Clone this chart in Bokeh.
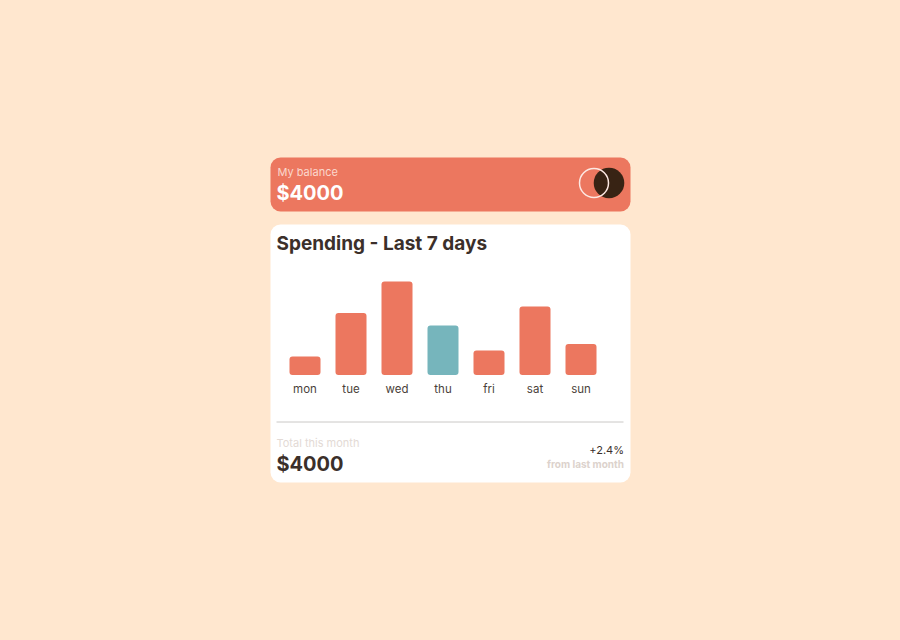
from bokeh.plotting import figure
from bokeh.models import Range1d
from bokeh.core.properties import value
from bokeh.embed import file_html
from bokeh.resources import INLINE

# ---- data ----
days = ["mon", "tue", "wed", "thu", "fri", "sat", "sun"]
spend = [18.5, 62, 93.5, 49.5, 24.5, 68.5, 31]
highlight_day = "thu"
balance_label = "My balance"
balance_text = "$4000"
chart_title = "Spending - Last 7 days"
total_label = "Total this month"
total_text = "$4000"
change_text = "+2.4%"
change_label = "from last month"

# ---- colours ----
BG = "#ffe7cf"
RED = "#ec775f"
CYAN = "#76b5bc"
DARK = "#382314"
TEXT = "#3b2f2a"
FONT = value("Inter")

W, H = 884, 624
p = figure(width=W, height=H, output_backend="svg", toolbar_location=None,
           x_range=Range1d(0, W), y_range=Range1d(H, 0), min_border=0,
           background_fill_color=BG, border_fill_color=BG, outline_line_color=None)
p.axis.visible = False
p.grid.visible = False

# cards (page pixel coordinates)
p.quad(left=[270], right=[630], top=[157], bottom=[211],
       fill_color=RED, line_color=None, border_radius=10)
p.quad(left=[270], right=[630], top=[224], bottom=[482],
       fill_color="white", line_color=None, border_radius=10)

# header texts
p.text(x=[277], y=[171], text=[balance_label], text_font=FONT,
       text_font_size="11px", text_color="#fbd8cd", text_baseline="middle")
p.text(x=[276], y=[192], text=[balance_text], text_font=FONT,
       text_font_size="20px", text_font_style="bold", text_color="white",
       text_baseline="middle")

# logo circles
p.circle(x=[608.5], y=[182.5], radius=15.3, fill_color=DARK, line_color=None)
p.circle(x=[593.5], y=[182.5], radius=14.5, fill_color=None,
         line_color="#fde8e2", line_width=1.5)

# title
p.text(x=[276], y=[243], text=[chart_title], text_font=FONT,
       text_font_size="19px", text_font_style="bold", text_color=TEXT,
       text_baseline="middle")

# bar chart scales: index step 46px starting at 304.5px; baseline at 374.5px, 1px per unit
step = 46.0
first_center = 304.5
p.extra_x_ranges["days"] = Range1d(-first_center / step, (W - first_center) / step)
base = 374.5
p.extra_y_ranges["spend"] = Range1d(-(H - base), base)

idx = list(range(len(days)))
colors = [CYAN if d == highlight_day else RED for d in days]
p.vbar(x=idx, top=spend, bottom=0, width=31 / step, fill_color=colors,
       line_color=None, border_radius=3, x_range_name="days", y_range_name="spend")
p.text(x=idx, y=[-14] * len(days), text=days, text_font=FONT,
       text_font_size="11.5px", text_color="#4a3f3a", text_align="center",
       text_baseline="middle", x_range_name="days", y_range_name="spend")

# divider
p.segment(x0=[276], x1=[623], y0=[421.5], y1=[421.5],
          line_color="#bdbab8", line_width=0.8)

# footer
p.text(x=[276], y=[442.5], text=[total_label], text_font=FONT,
       text_font_size="11px", text_color="#e3dad5", text_baseline="middle")
p.text(x=[276], y=[463], text=[total_text], text_font=FONT,
       text_font_size="20px", text_font_style="bold", text_color=TEXT,
       text_baseline="middle")
p.text(x=[623.5], y=[449.5], text=[change_text], text_font=FONT,
       text_font_size="11px", text_color=TEXT, text_align="right",
       text_baseline="middle")
p.text(x=[623.5], y=[463.5], text=[change_label], text_font=FONT,
       text_font_size="10px", text_font_style="bold", text_color="#dcd2cc",
       text_align="right", text_baseline="middle")

html = file_html(p, INLINE, title="Expenses chart")
html = html.replace("</head>", "<style>body{background:%s;}</style></head>" % BG, 1)
open("out.html", "w").write(html)
